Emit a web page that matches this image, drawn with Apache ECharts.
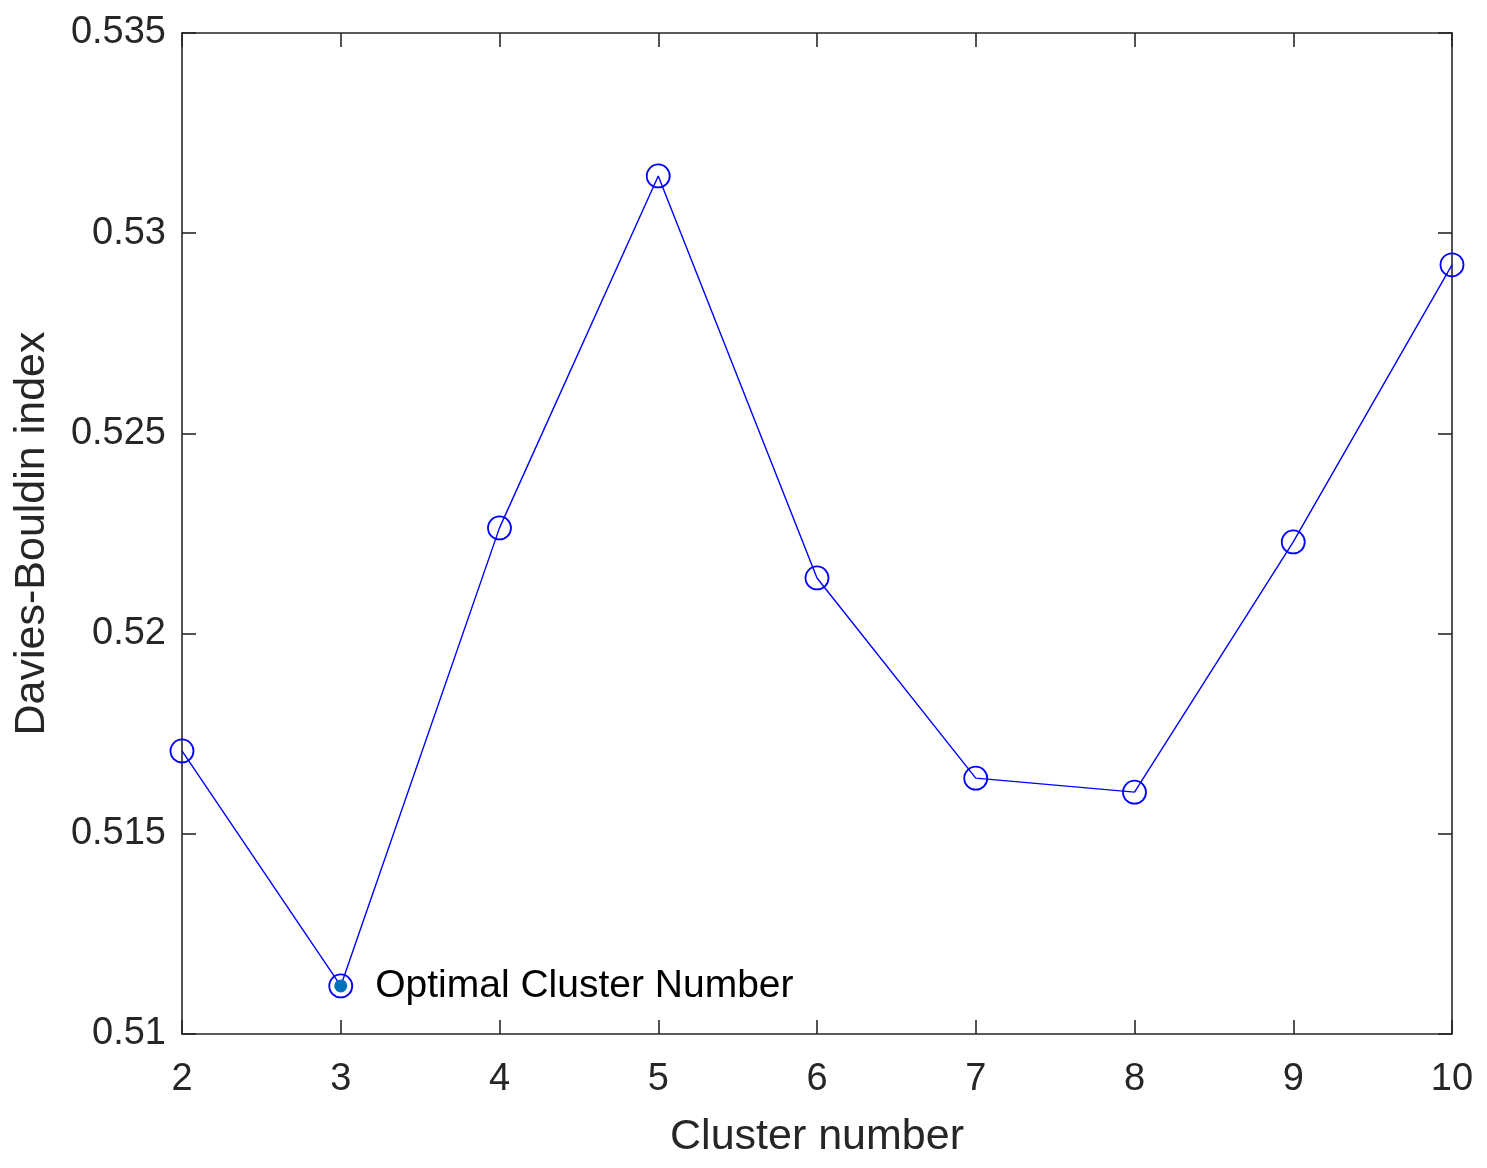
<!DOCTYPE html>
<html>
<head>
<meta charset="utf-8">
<script src="https://cdn.jsdelivr.net/npm/echarts@6/dist/echarts.min.js"></script>
<style>html,body{margin:0;padding:0;background:#fff}#c{width:1487px;height:1168px}</style>
</head>
<body>
<div id="c"></div>
<script>
const clusters = [2, 3, 4, 5, 6, 7, 8, 9, 10];
const dbIndex = [0.51707, 0.51120, 0.52264, 0.53143, 0.52139, 0.51639, 0.51604, 0.52229, 0.52921];
const optimalCluster = 3;
const optimalLabel = 'Optimal Cluster Number';
const yTicks = [0.51, 0.515, 0.52, 0.525, 0.53, 0.535];

const font = 'Liberation Sans, Arial, Helvetica, sans-serif';
const axisColor = '#262626';
const chart = echarts.init(document.getElementById('c'));
const optIdx = clusters.indexOf(optimalCluster);

const baseAxis = {
  axisLine: { show: true, lineStyle: { color: axisColor, width: 1.6 } },
  axisTick: { show: true, inside: true, length: 14, lineStyle: { color: axisColor, width: 1.6 } },
  splitLine: { show: false }
};

chart.setOption({
  animation: false,
  backgroundColor: '#fff',
  grid: { left: 182, right: 35, top: 33, bottom: 134, containLabel: false },
  xAxis: [
    Object.assign({}, baseAxis, {
      type: 'value', min: 2, max: 10, interval: 1, position: 'bottom',
      name: 'Cluster number', nameLocation: 'middle', nameGap: 82,
      nameTextStyle: { fontFamily: font, fontSize: 43, color: axisColor, verticalAlign: 'top' },
      axisLabel: { fontFamily: font, fontSize: 38, color: axisColor, margin: 27 }
    }),
    Object.assign({}, baseAxis, {
      type: 'value', min: 2, max: 10, interval: 1, position: 'top',
      axisLabel: { show: false }
    })
  ],
  yAxis: [
    Object.assign({}, baseAxis, {
      type: 'value', min: 0.51, max: 0.535, interval: 0.005, position: 'left',
      name: 'Davies-Bouldin index', nameLocation: 'middle', nameGap: 128,
      nameTextStyle: { fontFamily: font, fontSize: 43, color: axisColor },
      axisLabel: { fontFamily: font, fontSize: 38, color: axisColor, margin: 16, padding: [6, 0, 0, 0],
        formatter: v => { const s = yTicks.find(t => Math.abs(t - v) < 1e-9); return s !== undefined ? String(s) : ''; } }
    }),
    Object.assign({}, baseAxis, {
      type: 'value', min: 0.51, max: 0.535, interval: 0.005, position: 'right',
      axisLabel: { show: false }
    })
  ],
  series: [
    {
      type: 'line',
      data: clusters.map((c, i) => [c, dbIndex[i]]),
      symbol: 'circle', symbolSize: 23,
      lineStyle: { color: '#0000ff', width: 1.4 },
      itemStyle: { color: 'rgba(0,0,0,0)', borderColor: '#0000ff', borderWidth: 1.8, opacity: 1 },
      clip: false, z: 2
    },
    {
      type: 'scatter',
      data: [[optimalCluster, dbIndex[optIdx]]],
      symbol: 'circle', symbolSize: 13,
      itemStyle: { color: '#0072BD', opacity: 1 },
      label: { show: true, position: 'right', distance: 28, formatter: optimalLabel, padding: [8, 0, 0, 0],
        fontFamily: font, fontSize: 39, color: '#000' },
      z: 3
    }
  ]
});
</script>
</body>
</html>
